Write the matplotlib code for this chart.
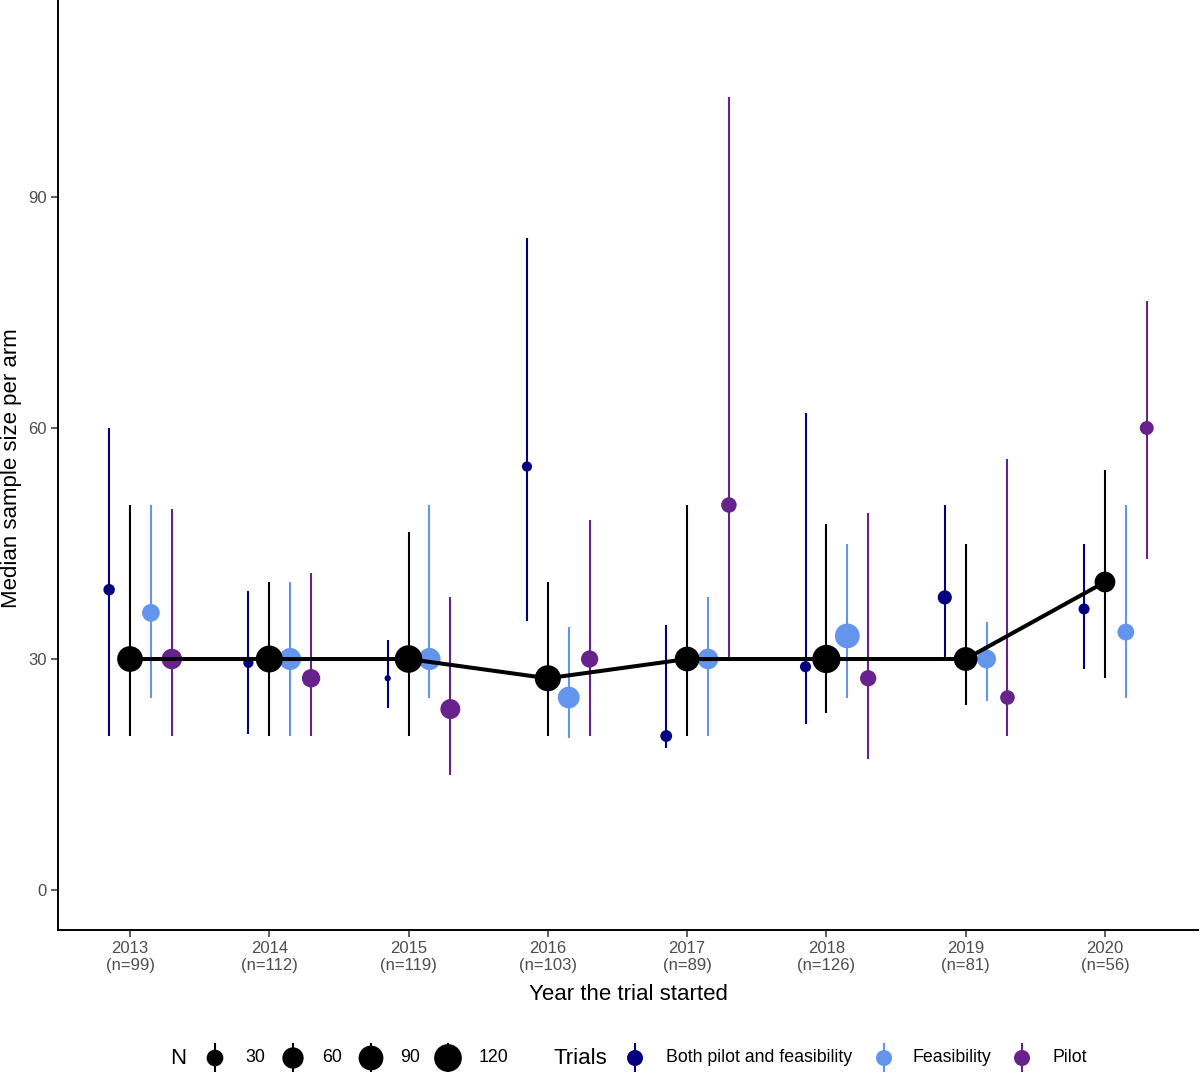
import numpy as np
import matplotlib
matplotlib.use("Agg")
import matplotlib.pyplot as plt

plt.rcParams['font.family'] = ['Liberation Sans', 'DejaVu Sans']

# data
years = [2013, 2014, 2015, 2016, 2017, 2018, 2019, 2020]
n_total = [99, 112, 119, 103, 89, 126, 81, 56]

overall_med = [30, 30, 30, 27.5, 30, 30, 30, 40]
overall_lo = [20, 20, 20, 20, 20, 23, 24, 27.5]
overall_hi = [50, 40, 46.5, 40, 50, 47.5, 45, 54.5]

both_med = [39, 29.5, 27.5, 55, 20, 29, 38, 36.5]
both_lo = [20, 20.2, 23.7, 35, 18.4, 21.5, 30, 28.7]
both_hi = [60, 38.8, 32.5, 84.7, 34.4, 62, 50, 45]
both_n = [9, 6, 2, 6, 10, 8, 18, 8]

feas_med = [36, 30, 30, 25, 30, 33, 30, 33.5]
feas_lo = [25, 20, 25, 19.7, 20, 25, 24.5, 25]
feas_hi = [50, 40, 50, 34.2, 38, 45, 34.8, 50]
feas_n = [36, 66, 67, 64, 55, 90, 43, 31]

pilot_med = [30, 27.5, 23.5, 30, 50, 27.5, 25, 60]
pilot_lo = [20, 20, 15, 20, 30, 17, 20, 43]
pilot_hi = [49.5, 41.2, 38, 48, 103, 49, 56, 76.5]
pilot_n = [54, 40, 50, 33, 24, 28, 20, 17]

legend_n = [30, 60, 90, 120]
trial_labels = ["Both pilot and feasibility", "Feasibility", "Pilot"]

C_BOTH = "#000080"
C_FEAS = "#6495ED"
C_PILOT = "#68228B"
GREY = "#4D4D4D"
PX = 72 / 100  # points per pixel


def diam(n):
    # point diameter in pixels for a count n (area-like size scale)
    n = np.asarray(n, dtype=float)
    return 6.25 + 1.975 * np.sqrt(np.clip(n - 2, 0, None))


fig = plt.figure(figsize=(12, 10.74), dpi=100)
ax = fig.add_axes([58 / 1200, 144 / 1074, 1140 / 1200, 930 / 1074])

yrs = np.array(years, dtype=float)


def pointrange(dx, med, lo, hi, n, color, z):
    x = yrs + dx
    ax.vlines(x, lo, hi, color=color, lw=1.5, zorder=z)
    ax.scatter(x, med, s=(diam(n) * PX) ** 2, color=color, edgecolors='none', zorder=z + 0.5)


pointrange(-0.15, both_med, both_lo, both_hi, both_n, C_BOTH, 2)
pointrange(0.15, feas_med, feas_lo, feas_hi, feas_n, C_FEAS, 2)
pointrange(0.30, pilot_med, pilot_lo, pilot_hi, pilot_n, C_PILOT, 2)

# overall
ax.vlines(yrs, overall_lo, overall_hi, color='black', lw=1.5, zorder=4)
ax.plot(yrs, overall_med, color='black', lw=2.9, zorder=5, solid_capstyle='butt')
ax.scatter(yrs, overall_med, s=(diam(n_total) * PX) ** 2, color='black', edgecolors='none', zorder=6)

ax.set_xlim(2012.483, 2020.668)
ax.set_ylim(-5.19, 115.58)
ax.set_xticks(years)
ax.set_xticklabels([f"{y}\n(n={n})" for y, n in zip(years, n_total)], linespacing=1.15)
ax.set_yticks([0, 30, 60, 90])
ax.tick_params(axis='both', colors='#333333', labelcolor=GREY, labelsize=12, length=5, width=1.1)
ax.tick_params(axis='x', pad=3)
ax.tick_params(axis='y', pad=3)
for s in ['top', 'right']:
    ax.spines[s].set_visible(False)
for s in ['left', 'bottom']:
    ax.spines[s].set_linewidth(1.4)
    ax.spines[s].set_color('black')

# axis titles
fig.text(628 / 1200, 1 - 994 / 1074, "Year the trial started", ha='center', va='center', fontsize=16)
fig.text(12 / 1200, 1 - 468 / 1074, "Median sample size per arm", ha='center', va='center',
         rotation=90, fontsize=16)

# legend drawn on an overlay in pixel coordinates
lg = fig.add_axes([0, 0, 1, 1])
lg.set_xlim(0, 1200)
lg.set_ylim(1074, 0)
lg.axis('off')
ly = 1058
lg.text(170, ly, "N", ha='left', va='center', fontsize=16)
for xk, xl, n in zip([215, 293, 371, 448], [245, 322, 400, 479], legend_n):
    lg.vlines(xk, 1043, 1072, color='black', lw=1.5)
    lg.scatter([xk], [ly], s=(float(diam(n)) * PX) ** 2, color='black', edgecolors='none')
    lg.text(xl, ly, str(n), ha='left', va='center', fontsize=12.8)

lg.text(553, ly, "Trials", ha='left', va='center', fontsize=16)
for xk, xl, lab, c in zip([635, 884, 1022], [666, 913, 1052], trial_labels, [C_BOTH, C_FEAS, C_PILOT]):
    lg.vlines(xk, 1043, 1072, color=c, lw=1.5)
    lg.scatter([xk], [ly], s=(16 * PX) ** 2, color=c, edgecolors='none')
    lg.text(xl, ly, lab, ha='left', va='center', fontsize=12.8)

fig.savefig("out.png", dpi=100)
